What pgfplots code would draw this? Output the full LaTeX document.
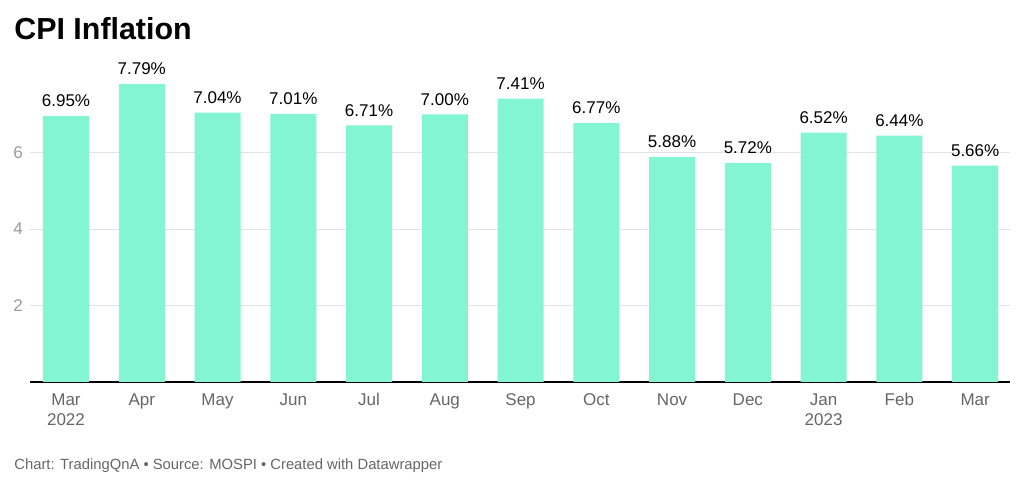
\documentclass[border=0pt]{standalone}
\usepackage{pgfplots}
\pgfplotsset{compat=1.18}
\usepackage{fontspec}
\setmainfont{Liberation Sans}
\definecolor{barmint}{HTML}{84F5D1}
\definecolor{gridgray}{HTML}{E3E3E3}
\definecolor{ticktext}{HTML}{666666}
\definecolor{ytext}{HTML}{9A9A9A}
\begin{document}
\begin{tikzpicture}
\path[use as bounding box] (0,0) rectangle (512pt,243.5pt);
\node[anchor=base west, inner sep=0pt, font=\fontsize{15.2}{18}\selectfont\bfseries] at (7pt,223.5pt) {CPI Inflation};
\node[anchor=base west, inner sep=0pt, font=\fontsize{7.4}{9}\selectfont, text=ticktext] at (7pt,8.5pt) {Chart: TradingQnA • Source: MOSPI • Created with Datawrapper};
\begin{axis}[
  at={(15pt,52.5pt)}, anchor=south west,
  scale only axis,
  width=490pt, height=153pt,
  xmin=-0.475, xmax=12.46,
  ymin=0, ymax=8,
  ybar, bar width=23pt,
  axis x line*=bottom, axis y line*=left,
  x axis line style={black, line width=0.8pt},
  y axis line style={draw=none},
  xtick=data,
  xticklabels={{Mar\\2022},Apr,May,Jun,Jul,Aug,Sep,Oct,Nov,Dec,{Jan\\2023},Feb,Mar},
  xticklabel style={align=center, text=ticktext, font=\fontsize{8.5}{10}\selectfont, yshift=2pt},
  x tick style={draw=none},
  ytick={2,4,6},
  y tick style={draw=none},
  yticklabel style={text=ytext, font=\fontsize{8.5}{10}\selectfont},
  /pgf/number format/assume math mode=true,
  ymajorgrids,
  grid style={gridgray, line width=0.5pt},
  axis on top=false,
  nodes near coords={\pgfmathprintnumber[fixed,fixed zerofill,precision=2]{\pgfplotspointmeta}\%},
  nodes near coords style={font=\fontsize{8.5}{10}\selectfont, text=black, yshift=1pt},
  clip=false,
]
\addplot[fill=barmint, draw=none] coordinates {
  (0,6.95) (1,7.79) (2,7.04) (3,7.01) (4,6.71) (5,7.00) (6,7.41)
  (7,6.77) (8,5.88) (9,5.72) (10,6.52) (11,6.44) (12,5.66)
};
\end{axis}
\end{tikzpicture}
\end{document}
